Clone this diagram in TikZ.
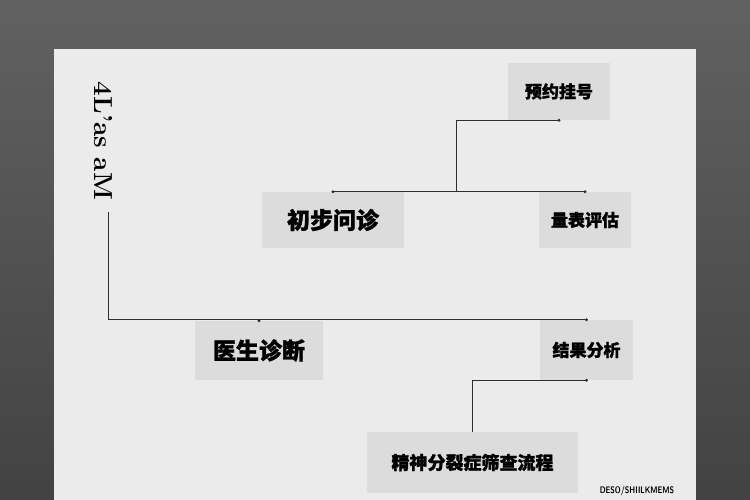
\documentclass[tikz,border=0pt]{standalone}
\usepackage{fontspec}
\usepackage{tikz}
\newfontfamily\cjk{Noto Sans CJK SC}[BoldFeatures={FakeBold=1.3}]
\definecolor{paper}{HTML}{EBEBEB}
\definecolor{boxgray}{HTML}{DCDCDC}
\definecolor{inkgray}{HTML}{2E2E2E}
\tikzstyle{box} = [fill=boxgray, inner sep=0pt, font=\cjk\bfseries]
\tikzstyle{dot} = [circle, fill=inkgray, minimum width=3.2pt, inner sep=0pt]
\tikzstyle{link} = [inkgray, line width=0.9pt]

\begin{document}
\begin{tikzpicture}[x=1pt,y=-1pt]
			\useasboundingbox (0,0) rectangle (750,500);
			\shade[top color=black!62, bottom color=black!74] (0,0) rectangle (750,500);
			\fill[paper] (54,49) rectangle (696,500);
			% boxes
			\node[box, minimum width=102pt, minimum height=57pt, font=\cjk\bfseries\fontsize{17}{17}\selectfont] (yuyue) at (559,91.5) {预约挂号};
			\node[box, minimum width=142pt, minimum height=56pt, font=\cjk\bfseries\fontsize{23}{23}\selectfont] (chubu) at (333,220) {初步问诊};
			\node[box, minimum width=92pt, minimum height=56pt, font=\cjk\bfseries\fontsize{17}{17}\selectfont] (liangbiao) at (585,220) {量表评估};
			\node[box, minimum width=128pt, minimum height=59pt, font=\cjk\bfseries\fontsize{23}{23}\selectfont] (yisheng) at (259,350.5) {医生诊断};
			\node[box, minimum width=93pt, minimum height=60pt, font=\cjk\bfseries\fontsize{17}{17}\selectfont] (jieguo) at (586.5,350) {结果分析};
			\node[box, minimum width=211pt, minimum height=61pt, font=\cjk\bfseries\fontsize{18}{18}\selectfont] (jingshen) at (472.5,462.5) {精神分裂症筛查流程};
			\node[rotate=-90, anchor=east, inner sep=0pt, font=\bfseries\fontsize{26}{26}\selectfont] (title) at (103,200) {4L'as aM};
			\node[inner sep=0pt, xscale=0.78, font=\sffamily\bfseries\fontsize{9.5}{9.5}\selectfont] (mark) at (637,491) {DESO/SHIILKMEMS};
			% connectors
			\coordinate (top) at (456,192);
			\coordinate (corner) at (108,212);
			\draw[link] (chubu.north) -- (liangbiao.north);
			\draw[link] (yuyue.south) -| (top);
			\draw[link] (corner) |- (jieguo.north);
			\draw[link] (jieguo.south) -| (jingshen.north);
			\foreach \n in {yuyue.south,chubu.north,liangbiao.north,yisheng.north,jieguo.north,jieguo.south}
				\node[dot] at (\n) {};
		\end{tikzpicture}
\end{document}
